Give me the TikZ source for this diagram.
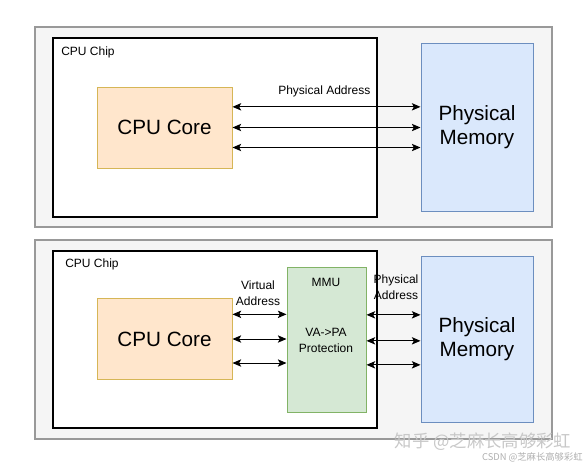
\documentclass[tikz,border=0pt]{standalone}
\usepackage{fontspec}
\setmainfont{Liberation Sans}
\newfontfamily\cjk{Noto Sans CJK SC}
\usetikzlibrary{arrows.meta}

\tikzset{
  outerbox/.style={draw={rgb,255:red,153;green,153;blue,153}, fill={rgb,255:red,245;green,245;blue,245}, line width=0.9pt},
  chipbox/.style={draw=black, fill=white, line width=0.9pt},
  corebox/.style={draw={rgb,255:red,214;green,182;blue,86}, fill={rgb,255:red,255;green,230;blue,204}, line width=0.75pt,
    minimum width=101.25pt, minimum height=60.75pt, inner sep=0pt, font=\fontsize{15.5}{18}\selectfont},
  membox/.style={draw={rgb,255:red,108;green,142;blue,191}, fill={rgb,255:red,218;green,232;blue,252}, line width=0.75pt,
    minimum width=84pt, inner sep=0pt, align=center, font=\fontsize{15.5}{18}\selectfont},
  mmubox/.style={draw={rgb,255:red,130;green,179;blue,102}, fill={rgb,255:red,213;green,232;blue,212}, line width=0.75pt,
    minimum width=59.25pt, minimum height=108.75pt, inner sep=0pt},
  small/.style={font=\fontsize{9}{12}\selectfont, inner sep=0.75pt},
  bus/.style={{Stealth[length=6.5pt,width=5.5pt,inset=1.5pt]}-{Stealth[length=6.5pt,width=5.5pt,inset=1.5pt]}, line width=0.75pt}
}

\begin{document}
\begin{tikzpicture}[x=0.75pt,y=0.75pt,yscale=-1,xscale=1]
  \useasboundingbox (0,0) rectangle (588,469);

  % top: no MMU
  \draw [outerbox] (35,27) rectangle (552,227);
  \draw [chipbox] (53,38) rectangle (377,217);
  \draw (60,52) node [anchor=west][small] (chipA) {CPU Chip};
  \node [corebox] (coreA) at (164.5,127.5) {CPU Core};
  \node [membox, minimum height=126pt] (memA) at (477,127) {Physical\\Memory};
  \draw (277,91) node [anchor=west][small] (paA) {Physical Address};

  \draw [bus] ([yshift=15pt]coreA.east) -- ([yshift=15pt]coreA.east -| memA.west);
  \draw [bus] (coreA.east) -- (coreA.east -| memA.west);
  \draw [bus] ([yshift=-15.5pt]coreA.east) -- ([yshift=-15.5pt]coreA.east -| memA.west);

  % bottom: with MMU
  \draw [outerbox] (35,240) rectangle (552,439);
  \draw [chipbox] (53,251) rectangle (377,428);
  \draw (64,264) node [anchor=west][small] (chipB) {CPU Chip};
  \node [corebox] (coreB) at (164.5,339) {CPU Core};
  \node [mmubox] (mmu) at (326.5,339.5) {};
  \draw (326,282) node [small] (mmuname) {MMU};
  \draw (326,340) node [small, align=center] (mmujob) {VA->PA\\Protection};
  \node [membox, minimum height=124.5pt] (memB) at (477,339) {Physical\\Memory};
  \draw (258,293) node [small, align=center] (vaB) {Virtual\\Address};
  \draw (396,287) node [small, align=center] (paB) {Physical\\Address};

  \draw [bus] ([yshift=18pt]coreB.east) -- ([yshift=18pt]coreB.east -| mmu.west);
  \draw [bus] (coreB.east) -- (coreB.east -| mmu.west);
  \draw [bus] ([yshift=-18.5pt]coreB.east) -- ([yshift=-18.5pt]coreB.east -| mmu.west);

  \draw [bus] ([yshift=19pt]mmu.east) -- ([yshift=19pt]mmu.east -| memB.west);
  \draw [bus] ([yshift=1pt]mmu.east) -- ([yshift=1pt]mmu.east -| memB.west);
  \draw [bus] ([yshift=-18.5pt]mmu.east) -- ([yshift=-18.5pt]mmu.east -| memB.west);

  % watermark
  \draw (483,442) node [text={rgb,255:red,200;green,200;blue,200}, font=\cjk\fontsize{13}{15}\selectfont, inner sep=0pt] (markA) {知乎 @芝麻长高够彩虹};
  \draw (583,457) node [anchor=east, text={rgb,255:red,175;green,175;blue,175}, font=\cjk\fontsize{7}{8}\selectfont, inner sep=0pt] (markB) {CSDN @芝麻长高够彩虹};
\end{tikzpicture}
\end{document}
